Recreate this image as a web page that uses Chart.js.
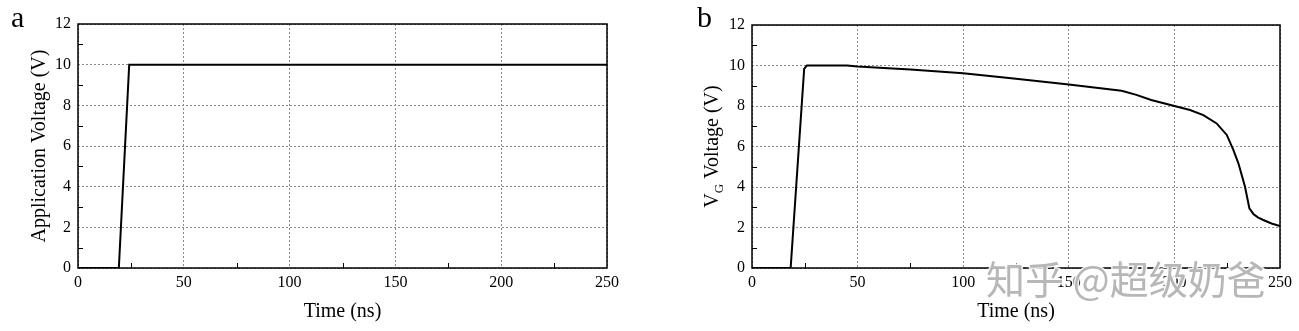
<!DOCTYPE html>
<html><head><meta charset="utf-8">
<script src="https://cdn.jsdelivr.net/npm/chart.js@4/dist/chart.umd.min.js"></script>
<style>
html,body{margin:0;padding:0;background:#fff;width:1299px;height:331px;overflow:hidden}
.box{position:absolute;top:0;height:331px}
#ba{left:0;width:650px}
#bb{left:650px;width:649px}
</style></head><body>
<div class="box" id="ba"><canvas id="ca"></canvas></div>
<div class="box" id="bb"><canvas id="cb"></canvas></div>
<script>
// ---- data ----
const timeTicks = [0, 50, 100, 150, 200, 250];
const voltTicks = [0, 2, 4, 6, 8, 10, 12];
const timeMinor = [25, 75, 125, 175, 225];
const voltMinor = [1, 3, 5, 7, 9, 11];
const appTime = [0, 19.3, 24.2, 250];
const appVolt = [0, 0, 10, 10];
const vgTime = [0, 18.3, 24.7, 26, 45, 50, 75, 100, 125, 150, 175, 182, 189, 200, 207.4, 213.7, 220, 224.8, 227.9, 230.3, 233.4, 235.5, 237.4, 239.5, 242.1, 246, 250];
const vgVolt = [0, 0, 9.83, 10, 10, 9.95, 9.8, 9.62, 9.35, 9.06, 8.75, 8.55, 8.3, 8.0, 7.8, 7.55, 7.14, 6.57, 5.83, 5.17, 4.02, 2.95, 2.67, 2.5, 2.37, 2.2, 2.07];
const panelLabels = ['a', 'b'];
const xTitle = 'Time (ns)';
const yTitleA = 'Application Voltage (V)';
const watermark = '知乎 @超级奶爸';

const SERIF = '"Liberation Serif", "Times New Roman", serif';

function pts(xs, ys) { return xs.map((t, i) => ({x: t, y: ys[i]})); }

function framePlugin(letter, letterX) {
  return {
    id: 'frame' + letter,
    afterDatasetsDraw(chart) {
      const {ctx, chartArea: a, scales: {x, y}} = chart;
      ctx.save();
      ctx.strokeStyle = '#000';
      ctx.lineWidth = 1;
      ctx.beginPath();
      timeMinor.forEach(v => { const p = Math.round(x.getPixelForValue(v)) + 0.5; ctx.moveTo(p, a.bottom); ctx.lineTo(p, a.bottom - 5); });
      voltMinor.forEach(v => { const p = Math.round(y.getPixelForValue(v)) + 0.5; ctx.moveTo(a.left, p); ctx.lineTo(a.left + 5, p); });
      ctx.stroke();
      ctx.lineWidth = 1.5;
      ctx.strokeRect(a.left, a.top, a.right - a.left, a.bottom - a.top);
      ctx.fillStyle = '#000';
      ctx.font = '30px ' + SERIF;
      ctx.textAlign = 'left';
      ctx.textBaseline = 'alphabetic';
      ctx.fillText(letter, letterX, 27);
      ctx.restore();
    }
  };
}

function makeChart(id, xs, ys, opts) {
  return new Chart(document.getElementById(id), {
    type: 'line',
    data: { datasets: [{ data: pts(xs, ys), borderColor: '#000', borderWidth: 2, pointRadius: 0, tension: 0, fill: false }] },
    options: {
      responsive: true, maintainAspectRatio: false, animation: false, devicePixelRatio: 1,
      layout: { padding: opts.padding },
      plugins: { legend: { display: false }, tooltip: { enabled: false } },
      scales: {
        x: {
          type: 'linear', min: 0, max: 250,
          afterBuildTicks: s => { s.ticks = timeTicks.map(v => ({value: v})); },
          ticks: { color: '#000', font: { family: SERIF, size: 16 }, padding: 5, maxRotation: 0 },
          grid: { color: '#8a8a8a', lineWidth: 1, drawTicks: false },
          border: { display: false, dash: [2, 2] },
          title: { display: true, text: xTitle, color: '#000', font: { family: SERIF, size: 20 }, padding: { top: 0, bottom: 7 } },
          afterFit: s => { s.height = 63; }
        },
        y: {
          type: 'linear', min: 0, max: 12,
          afterBuildTicks: s => { s.ticks = voltTicks.map(v => ({value: v})); },
          ticks: { color: '#000', font: { family: SERIF, size: 16 }, padding: 7 },
          grid: { color: '#8a8a8a', lineWidth: 1, drawTicks: false },
          border: { display: false, dash: [2, 2] },
          title: opts.yTitle ? { display: true, text: opts.yTitle, color: '#000', font: { family: SERIF, size: 20 }, padding: { top: 28, bottom: 0 } } : { display: false },
          afterFit: s => { s.width = opts.yWidth; }
        }
      }
    },
    plugins: opts.plugins
  });
}

makeChart('ca', appTime, appVolt, {
  padding: { left: 0, right: 43, top: 24, bottom: 0 },
  yWidth: 78, yTitle: yTitleA,
  plugins: [framePlugin(panelLabels[0], 11)]
});

const vgTitlePlugin = {
  id: 'vgTitle',
  afterDraw(chart) {
    const {ctx, chartArea: a} = chart;
    ctx.save();
    ctx.fillStyle = '#000';
    ctx.translate(63, (a.top + a.bottom) / 2);
    ctx.rotate(-Math.PI / 2);
    const f1 = '20px ' + SERIF, f2 = '13px ' + SERIF;
    const rest = ' Voltage (V)';
    ctx.font = f1; const wV = ctx.measureText('V').width; const wR = ctx.measureText(rest).width;
    ctx.font = f2; const wG = ctx.measureText('G').width;
    let x0 = -(wV + wG + wR) / 2;
    ctx.textBaseline = 'middle';
    ctx.textAlign = 'left';
    ctx.font = f1; ctx.fillText('V', x0, 0);
    ctx.font = f2; ctx.fillText('G', x0 + wV, 7);
    ctx.font = f1; ctx.fillText(rest, x0 + wV + wG, 0);
    ctx.restore();
    // watermark
    ctx.save();
    ctx.font = '39px "Noto Sans CJK SC", sans-serif';
    ctx.textBaseline = 'alphabetic';
    ctx.lineWidth = 3;
    ctx.strokeStyle = 'rgba(255,255,255,0.9)';
    ctx.strokeText(watermark, 336, 294);
    ctx.fillStyle = 'rgba(170,170,170,0.85)';
    ctx.fillText(watermark, 336, 294);
    ctx.restore();
  }
};

makeChart('cb', vgTime, vgVolt, {
  padding: { left: 0, right: 19, top: 25, bottom: 0 },
  yWidth: 102, yTitle: null,
  plugins: [framePlugin(panelLabels[1], 47), vgTitlePlugin]
});
</script>
</body></html>
